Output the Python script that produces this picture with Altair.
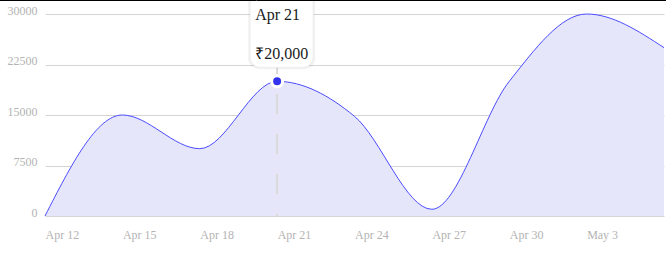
import altair as alt
import pandas as pd

dates = ["2024-04-12", "2024-04-15", "2024-04-18", "2024-04-21", "2024-04-24",
         "2024-04-27", "2024-04-30", "2024-05-03", "2024-05-06"]
amounts = [0, 15000, 10000, 20000, 14800, 1000, 20000, 30000, 25000]
y_ticks = [0, 7500, 15000, 22500, 30000]
tick_days = [(4, 12), (4, 15), (4, 18), (4, 21), (4, 24), (4, 27), (4, 30), (5, 3)]
hover_date = "2024-04-21"
hover_label = "Apr 21"
hover_value = 20000
hover_text = "₹20,000"

df = pd.DataFrame({"date": [d + "T00:00:00" for d in dates], "amount": amounts})
hover = pd.DataFrame({"date": [hover_date + "T00:00:00"], "amount": [hover_value],
                      "label": [hover_label], "text": [hover_text], "top": [30000], "zero": [0]})

FONT = "Liberation Serif"

x_enc = alt.X("date:T",
              scale=alt.Scale(domain=[alt.DateTime(year=2024, month=4, date=12),
                                      alt.DateTime(year=2024, month=5, date=6)]),
              axis=alt.Axis(values=[alt.DateTime(year=2024, month=m, date=d) for m, d in tick_days],
                            format="%b %-d", labelAlign="left", labelBaseline="top",
                            labelPadding=13, ticks=False, domain=False, grid=False,
                            labelColor="#b3b3b3", labelFont=FONT, labelFontSize=12,
                            title=None))
y_scale = alt.Scale(domain=[0, 30000], nice=False)
y_enc = alt.Y("amount:Q", scale=y_scale,
              axis=alt.Axis(values=y_ticks, format="d", ticks=False, domain=False,
                            gridColor="#d4d4d4", gridWidth=1, labelPadding=8,
                            labelBaseline="alphabetic",
                            labelColor="#b3b3b3", labelFont=FONT, labelFontSize=12,
                            title=None))

base = alt.Chart(df)
area = base.mark_area(interpolate="monotone", color="#e6e6fa", opacity=1).encode(x=x_enc, y=y_enc)
line = base.mark_line(interpolate="monotone", color="#4b4bff", strokeWidth=1).encode(x="date:T", y="amount:Q")

hb = alt.Chart(hover)
rule = hb.mark_rule(color="#dadada", strokeWidth=2, strokeDash=[20, 20]).encode(
    x="date:T", y="top:Q", y2="zero:Q")
shadow = hb.mark_rect(color="#000000", opacity=0.05, cornerRadius=11,
                      xOffset=-29, x2Offset=38, yOffset=-34, y2Offset=-12).encode(
    x="date:T", x2="date:T", y="top:Q", y2="amount:Q")
box = hb.mark_rect(color="#ffffff", cornerRadius=10, stroke="#eeeeee", strokeWidth=1,
                   xOffset=-27, x2Offset=36, yOffset=-34, y2Offset=-14).encode(
    x="date:T", x2="date:T", y="top:Q", y2="amount:Q")
t1 = hb.mark_text(align="left", baseline="alphabetic", dx=-22, dy=-61, font=FONT,
                  fontSize=16, color="#1a1a1a").encode(x="date:T", y="amount:Q", text="label:N")
t2 = hb.mark_text(align="left", baseline="alphabetic", dx=-22, dy=-22, font=FONT,
                  fontSize=16, color="#1a1a1a").encode(x="date:T", y="amount:Q", text="text:N")
point = hb.mark_point(filled=True, size=120, color="#3333ee", stroke="#ffffff",
                      strokeWidth=3, opacity=1, strokeOpacity=1).encode(x="date:T", y="amount:Q")
topline = hb.mark_rule(color="#000000", strokeWidth=1, yOffset=-13.5).encode(
    x=alt.value(-45), x2=alt.value(621), y="top:Q")

chart = alt.layer(area, line, rule, shadow, box, t1, t2, point, topline).properties(
    width=619, height=202,
    padding={"left": 45, "top": 14, "right": 2, "bottom": 37},
    autosize=alt.AutoSizeParams(type="none"),
    background="#ffffff",
).configure_view(stroke=None)

chart.save("out.html", embed_options={"renderer": "svg", "actions": False})
